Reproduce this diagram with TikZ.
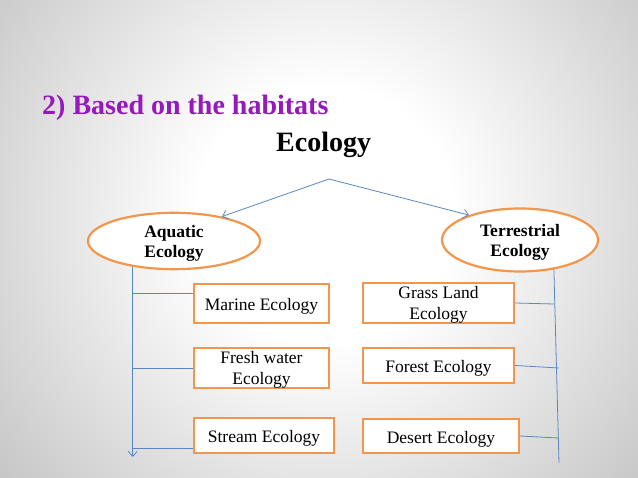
\documentclass[tikz,border=0pt]{standalone}
\usepackage{fontspec}
\setmainfont{Liberation Serif}[BoldFont={Liberation Serif Bold}]
\usetikzlibrary{shapes.geometric,arrows.meta,calc}
\definecolor{linkblue}{RGB}{88,136,196}
\definecolor{boxorange}{RGB}{242,150,78}
\definecolor{titlepurple}{RGB}{150,25,190}
\pgfdeclareradialshading{slidebg}{\pgfpoint{0bp}{0bp}}{color(0bp)=(white); color(8bp)=(white); color(26bp)=(black!22); color(32bp)=(black!27); color(40bp)=(black!40); color(50bp)=(black!44); color(72bp)=(black!46)}
\newcommand{\upstrut}{\rule{0pt}{16pt}}
\tikzset{
  link/.style={draw=linkblue, line width=0.8pt},
  tip/.style={-{Straight Barb[length=5pt,width=9pt]}},
  ellip/.style={ellipse, draw=boxorange, line width=2.2pt, fill=white, inner sep=0pt,
    align=center, font=\fontsize{17.5}{20}\selectfont\bfseries},
  habbox/.style={rectangle, draw=boxorange, line width=2.2pt, fill=white, inner sep=0pt,
    align=center, font=\fontsize{17.5}{21}\selectfont},
  oneline/.style={text height=15pt, text depth=0pt},
}
\begin{document}
\begin{tikzpicture}[x=1pt,y=-1pt]
\useasboundingbox (0,0) rectangle (638,478);
\begin{scope}
  \clip (0,0) rectangle (638,478);
  \shade[shading=slidebg] (-75,-185) rectangle (725,615);
\end{scope}

\node[anchor=base west, text=titlepurple, font=\fontsize{28}{34}\selectfont\bfseries, inner sep=0pt] (title) at (42,115) {2) Based on the habitats};
\node[anchor=base west, font=\fontsize{28}{34}\selectfont\bfseries, inner sep=0pt] (eco) at (276,152) {Ecology};

\node[ellip, minimum width=172pt, minimum height=56pt] (aq) at (174,241) {\upstrut Aquatic\\Ecology};
\node[ellip, minimum width=156pt, minimum height=63pt] (te) at (520,240) {\upstrut Terrestrial\\Ecology};

\node[habbox, oneline, minimum width=135pt, minimum height=39pt] (marine) at (261.5,303.5) {Marine Ecology};
\node[habbox, minimum width=135pt, minimum height=40pt] (fresh) at (261.5,368) {\upstrut Fresh water\\Ecology};
\node[habbox, oneline, minimum width=140pt, minimum height=35pt] (stream) at (264,435.5) {Stream Ecology};

\node[habbox, minimum width=151pt, minimum height=40pt] (grass) at (438.5,303) {\upstrut Grass Land\\Ecology};
\node[habbox, oneline, minimum width=151pt, minimum height=35pt] (forest) at (438.5,365.5) {Forest Ecology};
\node[habbox, oneline, minimum width=156pt, minimum height=34pt] (desert) at (441,436) {Desert Ecology};

\coordinate (apex) at (329,179);
\draw[link,tip] (apex) -- (aq.27);
\draw[link,tip] (apex) -- (te.154);

\coordinate (aqbot) at (aq.212);
\coordinate (aqend) at (aqbot |- 0,457);
\draw[link,tip] (aqbot) -- (aqend);
\draw[link] ([yshift=10.5pt]marine.west) -| (aqbot);
\draw[link] (fresh.west) -| (aqbot);
\draw[link] ([yshift=-12.5pt]stream.west) -| (aqbot);

\coordinate (tebot) at (te.319);
\coordinate (teend) at (559,463);
\draw[link] (tebot) -- (teend);
\coordinate (gl) at (554,304);
\coordinate (fl) at (559,368);
\coordinate (dl) at (558,438);
\draw[link] (grass.east) -- (gl);
\draw[link] (forest.east) -- (fl);
\draw[link] (desert.east) -- (dl);
\end{tikzpicture}
\end{document}
